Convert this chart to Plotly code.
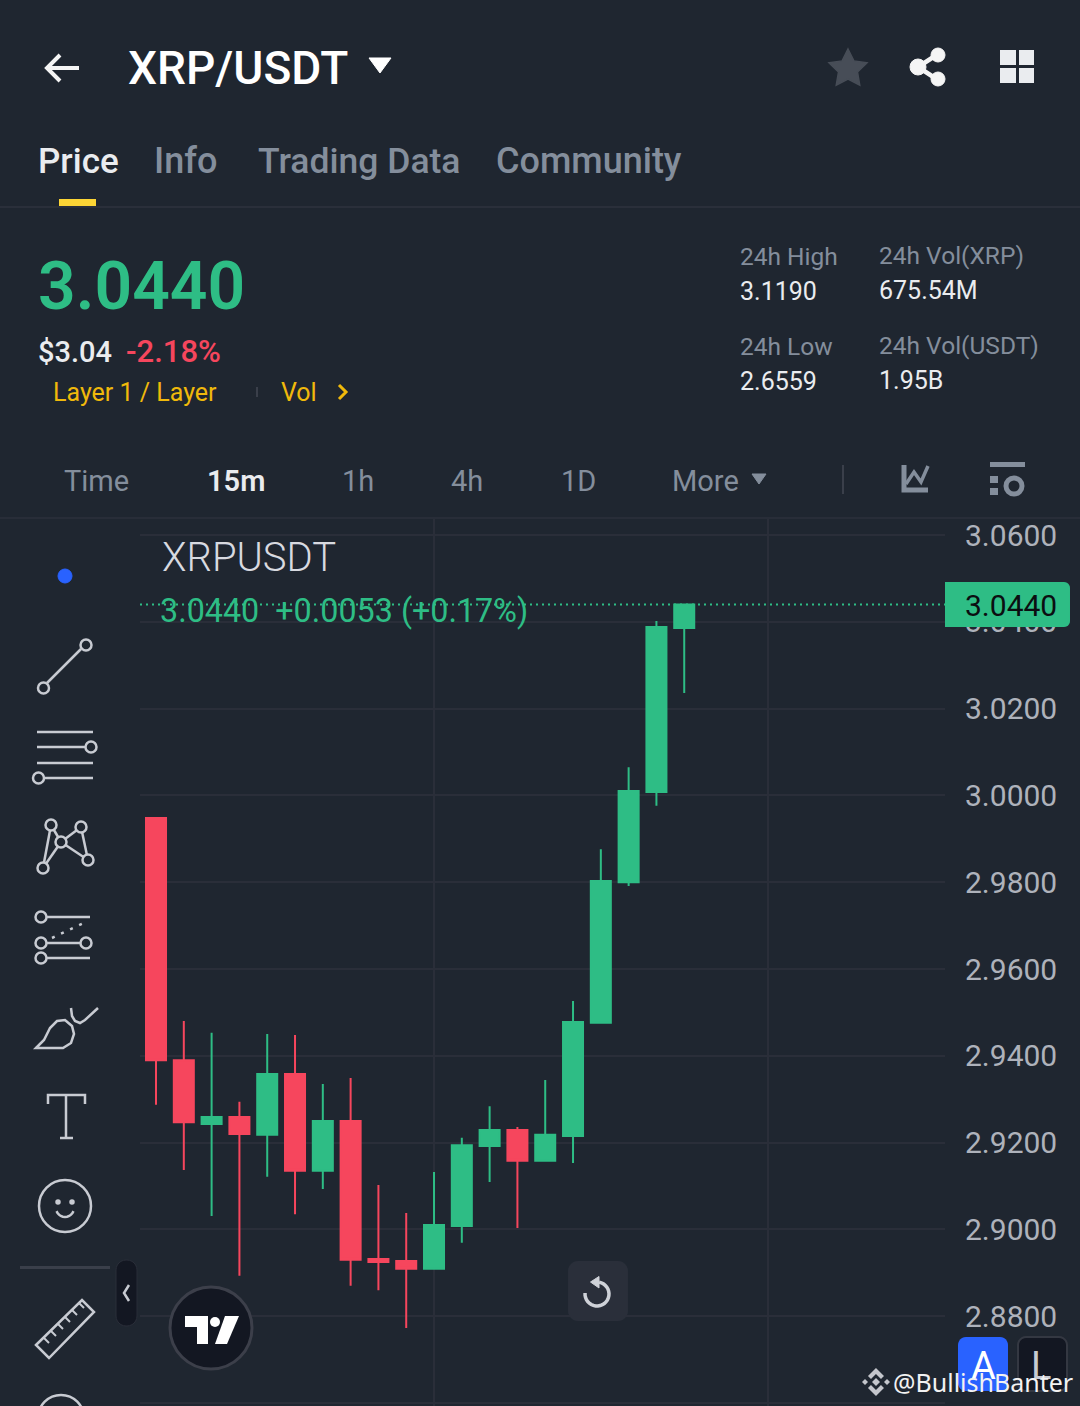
import math
import plotly.graph_objects as go

W = 1080
H = 1406

BG = "#1f2630"
GREEN = "#2ebd85"
RED = "#f6465d"
GRID = "#2a2e39"
GRAY = "#848e9c"
WHITE = "#eaecef"
YELLOW = "#f0b90b"
ICON = "#c8cbd2"

# candles, 15m
candle_idx = list(range(20))
opens = [2.9948, 2.9390, 2.9243, 2.9259, 2.9218, 2.9358, 2.9135, 2.9250, 2.8932, 2.8927,
         2.8909, 2.9008, 2.9192, 2.9229, 2.9158, 2.9215, 2.9476, 2.9800, 3.0008, 3.0386]
closes = [2.9390, 2.9247, 2.9259, 2.9220, 2.9358, 2.9135, 2.9250, 2.8930, 2.8925, 2.8909,
          2.9010, 2.9194, 2.9229, 2.9158, 2.9218, 2.9478, 2.9803, 3.0010, 3.0388, 3.0440]
highs = [2.9948, 2.9480, 2.9453, 2.9294, 2.9450, 2.9448, 2.9335, 2.9349, 2.9102, 2.9038,
         2.9132, 2.9211, 2.9284, 2.9236, 2.9344, 2.9526, 2.9876, 3.0065, 3.0402, 3.0440]
lows = [2.9287, 2.9137, 2.9031, 2.8893, 2.9121, 2.9035, 2.9093, 2.8870, 2.8860, 2.8773,
        2.8909, 2.8969, 2.9109, 2.9003, 2.9158, 2.9153, 2.9476, 2.9791, 2.9976, 3.0236]

price_ticks = [3.06, 3.04, 3.02, 3.00, 2.98, 2.96, 2.94, 2.92, 2.90, 2.88, 2.86]
price_labels = ["3.0600", "3.0400", "3.0200", "3.0000", "2.9800", "2.9600",
                "2.9400", "2.9200", "2.9000", "2.8800", ""]
time_grid = [10, 22]
last_price = 3.0440


def px(x):
    return x / W


def py(y):
    return 1 - y / H


shapes = []
notes = []


def text(x, y, s, size, color, weight=400, family="Roboto", anchor="left"):
    # annotations sit about 2px right of the asked x
    if anchor == "left":
        x = x - 2
    notes.append(dict(xref="paper", yref="paper", x=px(x), y=py(y), text=s, showarrow=False,
                      xanchor=anchor, yanchor="middle", borderpad=0,
                      font=dict(family=family, size=size, color=color, weight=weight)))


def path(points, color=ICON, width=2.5, fill=None, close=False):
    d = "M" + " L".join(f"{px(a):.5f},{py(b):.5f}" for a, b in points)
    if close:
        d += " Z"
    shapes.append(dict(type="path", xref="paper", yref="paper", path=d, layer="above",
                       line=dict(color=color, width=width), fillcolor=fill))


def circle(x, y, r, color=ICON, width=2.5, fill=None):
    shapes.append(dict(type="circle", xref="paper", yref="paper", layer="above",
                       x0=px(x - r), x1=px(x + r), y0=py(y + r), y1=py(y - r),
                       line=dict(color=color, width=width), fillcolor=fill))


def rect(x0, y0, x1, y1, fill, color=None, width=0):
    shapes.append(dict(type="rect", xref="paper", yref="paper", layer="above",
                       x0=px(x0), x1=px(x1), y0=py(y1), y1=py(y0),
                       line=dict(color=color, width=width), fillcolor=fill))


def arc(x, y, r, a0, a1, n=24):
    return [(x + r * math.cos(math.radians(a0 + (a1 - a0) * i / n)),
             y + r * math.sin(math.radians(a0 + (a1 - a0) * i / n))) for i in range(n + 1)]


def round_rect(x0, y0, x1, y1, r, fill, color=None, width=0):
    pts = (arc(x0 + r, y0 + r, r, 180, 270, 6) + arc(x1 - r, y0 + r, r, 270, 360, 6)
           + arc(x1 - r, y1 - r, r, 0, 90, 6) + arc(x0 + r, y1 - r, r, 90, 180, 6))
    path(pts, color=color or fill, width=width, fill=fill, close=True)


# top bar
path([(79, 68), (47, 68)], "#f5f5f5", 4)
path([(60, 55), (47, 68), (60, 81)], "#f5f5f5", 4)
text(129, 68, "XRP/USDT", 46, "#ffffff", 500)
path([(369, 58), (391, 58), (380, 73)], "#ffffff", 1, "#ffffff", True)
star = []
for i in range(10):
    r = 20 if i % 2 == 0 else 10
    a = math.radians(-90 + 36 * i)
    star.append((848 + r * math.cos(a), 69 + r * math.sin(a)))
path(star, "#474d57", 1.5, "#474d57", True)
path([(938, 54), (918, 67), (938, 80)], "#f5f5f5", 4.5)
circle(938, 55, 7, "#f5f5f5", 1, "#f5f5f5")
circle(918, 67, 8, "#f5f5f5", 1, "#f5f5f5")
circle(938, 79, 7, "#f5f5f5", 1, "#f5f5f5")
rect(1000, 50, 1016, 65, "#eaecef")
rect(1019, 50, 1034, 65, "#eaecef")
rect(1000, 68, 1016, 83, "#eaecef")
rect(1019, 68, 1034, 83, "#eaecef")

# tabs
text(39, 161, "Price", 35, WHITE, 500)
text(155, 161, "Info", 36, GRAY, 500)
text(259, 161, "Trading Data", 35.5, GRAY, 500)
text(497, 161, "Community", 36, GRAY, 500)
rect(59, 199, 96, 206, "#fcd535")
rect(0, 206, W, 208, "#2a2f3a")

# price block
text(39, 286, "3.0440", 66, GREEN, 600)
text(39, 352, "$3.04", 29, WHITE, 500)
text(127, 352, "-2.18%", 31, RED, 500)
text(54, 392, "Layer 1 / Layer", 25, YELLOW)
rect(256, 387, 258, 397, "#3a3f4a")
text(282, 392, "Vol", 25, YELLOW)
path([(339, 385), (346, 392), (339, 399)], YELLOW, 3)
text(741, 257, "24h High", 24.5, GRAY)
text(741, 291, "3.1190", 25, WHITE)
text(880, 255, "24h Vol(XRP)", 24.5, GRAY)
text(880, 290, "675.54M", 25, WHITE)
text(741, 347, "24h Low", 24.5, GRAY)
text(741, 381, "2.6559", 25, WHITE)
text(880, 345, "24h Vol(USDT)", 24.5, GRAY)
text(880, 380, "1.95B", 25, WHITE)

# interval row
text(65, 481, "Time", 29, GRAY)
text(208, 481, "15m", 29, WHITE, 600)
text(343, 481, "1h", 29, GRAY)
text(452, 481, "4h", 29, GRAY)
text(562, 481, "1D", 29, GRAY)
text(673, 481, "More", 29, GRAY)
path([(752, 474), (766, 474), (759, 484)], GRAY, 1, GRAY, True)
rect(842, 465, 844, 494, "#3a3f4a")
path([(904, 465), (904, 490), (928, 490)], GRAY, 5)
path([(906, 484), (914, 472), (921, 482), (928, 466)], GRAY, 3.5)
rect(990, 462, 1025, 467, GRAY)
rect(990, 476, 998, 483, GRAY)
rect(990, 488, 998, 495, GRAY)
circle(1014, 486, 8, GRAY, 5)
rect(0, 517, W, 519, "#282d38")

# chart legend
text(163, 557, "XRPUSDT", 40, "#d8dae0", 300)
text(161, 611, "3.0440  +0.0053 (+0.17%)", 32.3, GREEN)
shapes.append(dict(type="line", xref="paper", yref="y", x0=px(140), x1=px(945),
                   y0=last_price, y1=last_price, layer="above",
                   line=dict(color=GREEN, width=2, dash="2px,4px")))

# last price tag
pts = [(945, 582)] + arc(1064, 588, 6, 270, 360, 6) + arc(1064, 621, 6, 0, 90, 6) + [(945, 627)]
path(pts, GREEN, 0, GREEN, True)
text(966, 605, "3.0440", 30, "#0b0e11")

# drawing tools
circle(65, 576, 7, "#2962ff", 1, "#2962ff")
path([(47, 683), (81, 649)])
circle(86, 645, 5.5)
circle(43.5, 688, 5.5)
path([(37, 732), (93, 732)])
path([(37, 747), (85, 747)])
circle(91, 747, 5.5)
path([(37, 763), (93, 763)])
path([(44, 778), (93, 778)])
circle(38.5, 778, 5.5)
a, b, c, d, e = (51, 825), (81, 827), (61, 842), (43, 868), (88, 860)
path([a, d])
path([a, c])
path([c, b])
path([b, e])
path([c, e])
path([c, d])
for p in (a, b, c, d, e):
    circle(p[0], p[1], 5.5, fill=BG)
path([(47, 917), (90, 917)])
path([(47, 943), (81, 943)])
path([(47, 958), (90, 958)])
circle(41, 917, 5.5)
circle(41, 943, 5.5)
circle(86, 943, 5.5)
circle(41, 958, 5.5)
shapes.append(dict(type="line", xref="paper", yref="paper", x0=px(52), x1=px(88), y0=py(938),
                   y1=py(921), layer="above", line=dict(color=ICON, width=2.5, dash="3px,7px")))
path([(36, 1048), (44, 1040), (50, 1028), (57, 1021), (65, 1020), (72, 1026), (74, 1034),
      (71, 1043), (63, 1048)], close=True)
path([(71, 1008), (72, 1016), (75, 1021), (80, 1023), (85, 1020), (98, 1008)])
path([(48, 1104), (48, 1095), (85, 1095), (85, 1104)])
path([(66, 1095), (66, 1138)])
path([(60, 1138), (73, 1138)])
circle(65, 1206, 26)
circle(58, 1202, 1.5, fill=ICON)
circle(72, 1202, 1.5, fill=ICON)
path(arc(65, 1208, 9, 20, 160, 10))
rect(20, 1266, 110, 1269, "#3a3f4a")
round_rect(116, 1260, 137, 1326, 10, "#131722", "#2a2e39", 1)
path([(129, 1285), (124, 1293), (129, 1301)], ICON, 2.5)
path([(36, 1345), (82, 1300), (94, 1312), (49, 1358)], close=True)
for i in range(6):
    x0 = 44 + 7 * i
    y0 = 1338 - 7 * i
    path([(x0, y0), (x0 + 5, y0 + 5)], ICON, 2)
circle(61, 1418, 23)

# tradingview badge and reset button
circle(211, 1328, 41, "#3c3f4a", 3, "#131722")
path([(185, 1316), (208, 1316), (208, 1344), (197, 1344), (197, 1327), (185, 1327)],
     "#ffffff", 0, "#ffffff", True)
circle(215, 1322, 5, "#ffffff", 0, "#ffffff")
path([(225, 1316), (239, 1316), (227, 1344), (215, 1344)], "#ffffff", 0, "#ffffff", True)
round_rect(568, 1261, 628, 1321, 10, "#2a2f3a")
path(arc(597, 1294, 12, -80, 185), "#cfd2d8", 3.5)
path([(590.5, 1282), (599, 1276.5), (599, 1288)], "#cfd2d8", 1, "#cfd2d8", True)

# A / L buttons and watermark
round_rect(958, 1337, 1008, 1391, 8, "#2962ff")
round_rect(1018, 1337, 1067, 1391, 8, "#131722", "#343842", 2)
text(983, 1366, "A", 38, "#ffffff", anchor="center")
text(1041, 1366, "L", 38, "#c8cbd2", anchor="center")
LOGO = "#c4c6cc"
path([(876, 1368), (884, 1376), (881, 1379), (876, 1374), (871, 1379), (868, 1376)],
     LOGO, 0, LOGO, True)
path([(876, 1396), (884, 1388), (881, 1385), (876, 1390), (871, 1385), (868, 1388)],
     LOGO, 0, LOGO, True)
for cx, r in ((865, 3), (876, 4), (887, 3)):
    path([(cx - r, 1382), (cx, 1382 - r), (cx + r, 1382), (cx, 1382 + r)], LOGO, 0, LOGO, True)
text(894, 1382, "@BullishBanter", 25, "#f2f2f2", family="Noto Sans")

fig = go.Figure(go.Candlestick(
    x=candle_idx, open=opens, high=highs, low=lows, close=closes,
    increasing=dict(line=dict(color=GREEN, width=2), fillcolor=GREEN),
    decreasing=dict(line=dict(color=RED, width=2), fillcolor=RED),
    whiskerwidth=0, hoverinfo="skip", showlegend=False,
))

fig.update_layout(
    width=W, height=H, margin=dict(l=0, r=0, t=0, b=0), autosize=False,
    paper_bgcolor=BG, plot_bgcolor=BG, boxgap=0.28, boxgroupgap=0, showlegend=False,
    shapes=shapes, annotations=notes,
    xaxis=dict(domain=[px(140), px(945)], range=[-0.576, 28.38], tickvals=time_grid,
               showticklabels=False, showgrid=True, gridcolor=GRID, gridwidth=2,
               zeroline=False, showline=False, ticks="", rangeslider=dict(visible=False)),
    yaxis=dict(domain=[0, py(519)], range=[2.8593, 3.0637], side="right", tickmode="array",
               tickvals=price_ticks, ticktext=price_labels, ticks="", ticklabelstandoff=19,
               tickfont=dict(family="Roboto", size=30, color="#aeb2bb"), showgrid=True,
               gridcolor=GRID, gridwidth=2, zeroline=False, showline=False, automargin=False),
)

fig.write_html("out.html", config=dict(displayModeBar=False),
               post_script="document.body.style.margin='0';document.body.style.overflow='hidden';")
